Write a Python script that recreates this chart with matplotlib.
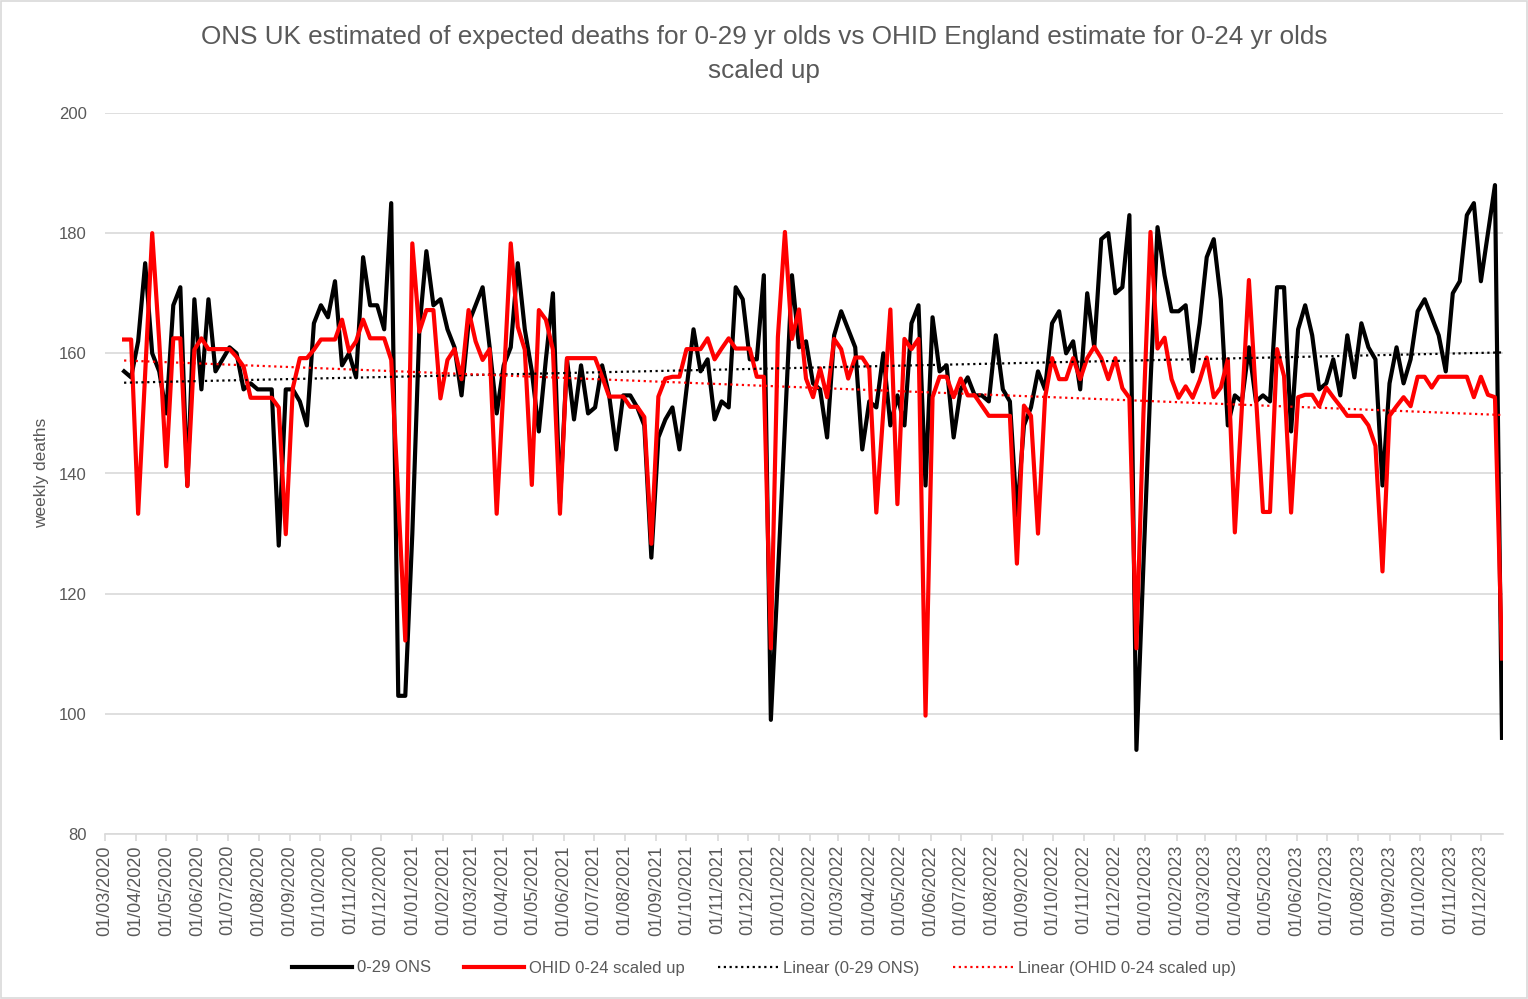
import numpy as np
import pandas as pd
from matplotlib import pyplot as plt
from matplotlib import dates as mdates
from matplotlib.patches import Rectangle

# Weekly data, week ending Friday, 20/03/2020 .. 22/12/2023
week_ending = pd.date_range("2020-03-20", "2023-12-22", freq="7D")

ons_0_29 = [
    157, 156, 162, 175, 160, 157, 150, 168, 171, 138,
    169, 154, 169, 157, 159, 161, 160, 154, 155, 154,
    154, 154, 128, 154, 154, 152, 148, 165, 168, 166,
    172, 158, 160, 156, 176, 168, 168, 164, 185, 103,
    103, 130, 164, 177, 168, 169, 164, 161, 153, 165,
    168, 171, 161, 150, 158, 161, 175, 164, 157, 147,
    159, 170, 135, 159, 149, 158, 150, 151, 158, 153,
    144, 153, 153, 151, 148, 126, 146, 149, 151, 144,
    154, 164, 157, 159, 149, 152, 151, 171, 169, 159,
    159, 173, 99, 123, 148, 173, 161, 162, 155, 154,
    146, 163, 167, 164, 161, 144, 152, 151, 160, 148,
    153, 148, 165, 168, 138, 166, 157, 158, 146, 154,
    156, 153, 153, 152, 163, 154, 152, 133, 148, 151,
    157, 154, 165, 167, 160, 162, 154, 170, 161, 179,
    180, 170, 171, 183, 94, 125, 155, 181, 173, 167,
    167, 168, 157, 165, 176, 179, 169, 148, 153, 152,
    161, 152, 153, 152, 171, 171, 147, 164, 168, 163,
    154, 155, 159, 153, 163, 156, 165, 161, 159, 138,
    155, 161, 155, 159, 167, 169, 166, 163, 157, 170,
    172, 183, 185, 172, 180, 188, 96,
]

ohid_0_24_scaled = [
    162.3, 162.3, 133.3, 156.7, 180.0, 162.0, 141.2, 162.5, 162.5, 137.9,
    160.6, 162.5, 160.7, 160.7, 160.7, 160.7, 159.4, 157.8, 152.6, 152.6,
    152.6, 152.6, 151.0, 129.9, 154.2, 159.2, 159.2, 160.6, 162.3, 162.3,
    162.3, 165.6, 160.3, 162.0, 165.6, 162.5, 162.5, 162.5, 158.9, 136.0,
    112.2, 178.3, 163.6, 167.2, 167.2, 152.5, 158.9, 160.7, 155.7, 167.2,
    162.0, 158.9, 160.7, 133.3, 155.0, 178.3, 164.4, 160.6, 138.1, 167.2,
    165.6, 160.6, 133.3, 159.2, 159.2, 159.2, 159.2, 159.2, 156.1, 152.8,
    152.8, 152.8, 151.1, 151.1, 149.4, 128.3, 152.8, 155.8, 156.1, 156.1,
    160.7, 160.7, 160.7, 162.5, 159.0, 160.8, 162.5, 160.8, 160.8, 160.8,
    156.1, 156.1, 110.9, 162.7, 180.2, 162.4, 167.3, 155.8, 152.7, 157.5,
    152.7, 162.4, 160.7, 155.8, 159.3, 159.3, 157.5, 133.5, 150.4, 167.3,
    134.9, 162.4, 160.7, 162.4, 99.7, 152.7, 156.1, 156.1, 152.7, 155.8,
    153.0, 153.0, 151.3, 149.6, 149.6, 149.6, 149.6, 125.0, 151.3, 149.6,
    130.0, 152.6, 159.2, 155.7, 155.7, 159.2, 155.7, 159.2, 161.1, 159.2,
    155.7, 159.2, 154.2, 152.6, 110.9, 150.0, 180.2, 160.8, 162.6, 155.7,
    152.6, 154.5, 152.6, 155.5, 159.3, 152.7, 154.3, 159.0, 130.2, 151.0,
    172.2, 153.0, 133.6, 133.6, 160.7, 156.2, 133.5, 152.7, 153.1, 153.1,
    151.2, 154.3, 152.7, 151.2, 149.6, 149.6, 149.6, 148.0, 144.6, 123.7,
    149.6, 151.2, 152.7, 151.2, 156.1, 156.1, 154.3, 156.1, 156.1, 156.1,
    156.1, 156.1, 152.7, 156.1, 153.1, 152.7, 109.2,
]

y_ticks = [80, 100, 120, 140, 160, 180, 200]
title_line1 = "ONS UK estimated of expected deaths for 0-29 yr olds vs OHID England estimate for 0-24 yr olds"
title_line2 = "scaled up"

grey_text = "#595959"
grid_grey = "#D9D9D9"

plt.rcParams["font.family"] = ["Liberation Sans", "DejaVu Sans"]

fig = plt.figure(figsize=(15.28, 9.99), dpi=100)
ax = fig.add_axes([105 / 1528, 1 - 834 / 999, (1503 - 105) / 1528, (834 - 113) / 999])

x = mdates.date2num(week_ending.to_pydatetime())

ax.plot(x, ons_0_29, color="black", linewidth=3, solid_joinstyle="round", label="0-29 ONS", zorder=3)
ax.plot(x, ohid_0_24_scaled, color="#FF0000", linewidth=3, solid_joinstyle="round",
        label="OHID 0-24 scaled up", zorder=4)

# Linear trendlines, like Excel's
fit_ons = np.poly1d(np.polyfit(x, ons_0_29, 1))
fit_ohid = np.poly1d(np.polyfit(x, ohid_0_24_scaled, 1))
ax.plot(x, fit_ons(x), color="black", linewidth=1.6, linestyle=(0, (1, 1.6)),
        label="Linear (0-29 ONS)", zorder=5)
ax.plot(x, fit_ohid(x), color="#FF0000", linewidth=1.6, linestyle=(0, (1, 1.6)),
        label="Linear (OHID 0-24 scaled up)", zorder=5)

# Axes limits and ticks
ax.set_ylim(80, 200)
ax.set_yticks(y_ticks)
ax.set_xlim(mdates.date2num(pd.Timestamp("2020-03-01")), mdates.date2num(pd.Timestamp("2023-12-23")))
ax.xaxis.set_major_locator(mdates.MonthLocator(bymonthday=1))
ax.xaxis.set_major_formatter(mdates.DateFormatter("%d/%m/%Y"))
plt.setp(ax.get_xticklabels(), rotation=90)

ax.grid(axis="y", color=grid_grey, linewidth=1.2)
ax.set_axisbelow(True)
for side in ["left", "top", "right"]:
    ax.spines[side].set_visible(False)
ax.spines["bottom"].set_color(grid_grey)
ax.spines["bottom"].set_linewidth(1.2)
ax.tick_params(axis="x", colors=grid_grey, length=5, width=1.2, labelcolor=grey_text, labelsize=13, pad=3)
ax.tick_params(axis="y", length=0, labelcolor=grey_text, labelsize=12, pad=13)

fig.text(42 / 1528, 1 - 473 / 999, "weekly deaths", rotation=90, ha="center", va="center",
         color=grey_text, fontsize=12.5)
fig.text(0.5, 1 - 37 / 999, title_line1, ha="center", va="center", color=grey_text, fontsize=18.8)
fig.text(0.5, 1 - 71 / 999, title_line2, ha="center", va="center", color=grey_text, fontsize=18.8)

fig.legend(loc="center", bbox_to_anchor=(0.5, 1 - 968 / 999), ncol=4, frameon=False,
           handlelength=3.6, columnspacing=2.0, handletextpad=0.3, labelcolor=grey_text, fontsize=12)

fig.patches.append(Rectangle((0.0005, 0.001), 0.999, 0.998, transform=fig.transFigure,
                             fill=False, edgecolor=grid_grey, linewidth=1.2))

plt.savefig("out.png", dpi=100)
plt.close()
